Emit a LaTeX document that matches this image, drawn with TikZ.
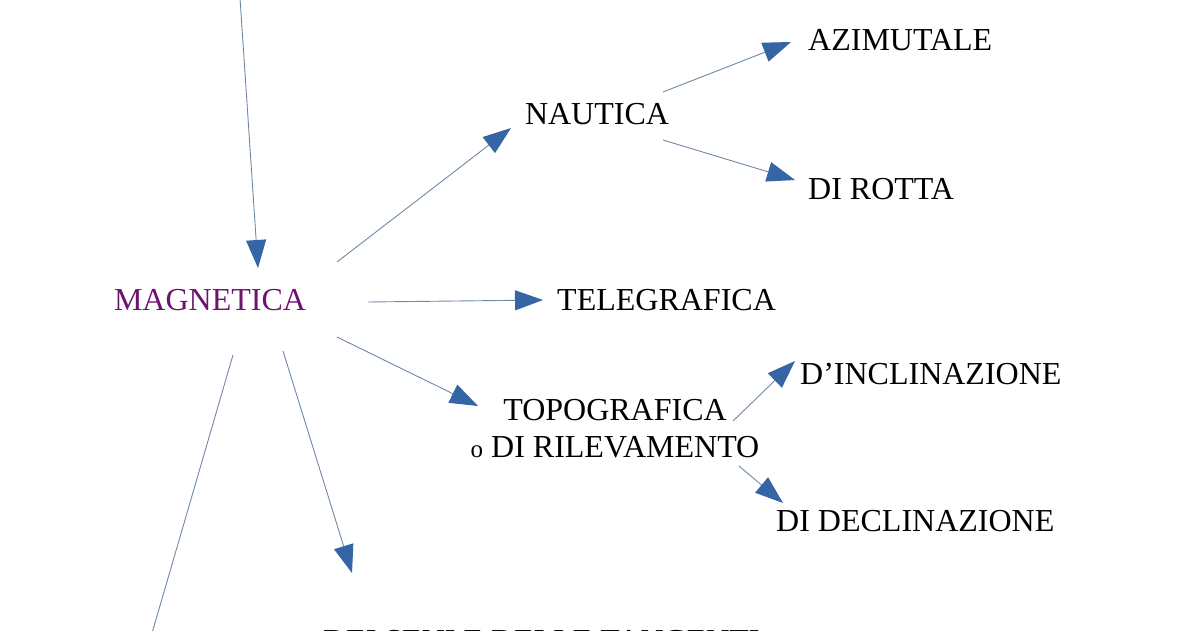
\documentclass[tikz,border=0pt]{standalone}
\usepackage{fontspec}
\setmainfont{Liberation Serif}
\usetikzlibrary{arrows.meta}
\definecolor{arr}{HTML}{3565A5}
\definecolor{ln}{HTML}{6F88A8}
\definecolor{mag}{HTML}{6E1470}
\begin{document}
\begin{tikzpicture}[x=1pt,y=-1pt,
  lbl/.style={font=\fontsize{32}{37}\selectfont, inner sep=0pt, text=black},
  con/.style={draw=ln, line width=0.9pt, -{Triangle[length=28pt,width=20pt,color=arr]}},
  free/.style={draw=ln, line width=0.9pt}]
\path[use as bounding box] (0,0) rectangle (1200,630);
\clip (0,0) rectangle (1200,630);
\node[lbl, text=mag] (mag) at (210,300) {MAGNETICA};
\node[lbl] (naut) at (597,114) {NAUTICA};
\node[lbl, anchor=west] (azi) at (808,40) {AZIMUTALE};
\node[lbl, anchor=west] (rot) at (808,189) {DI ROTTA};
\node[lbl, anchor=west] (tel) at (557,300) {TELEGRAFICA};
\node[lbl, align=center] (topo) at (615,429) {TOPOGRAFICA\\{\fontsize{25}{27}\selectfont o} DI RILEVAMENTO};
\node[lbl, anchor=west] (inc) at (800,374) {D’INCLINAZIONE};
\node[lbl, anchor=west] (dec) at (776,521) {DI DECLINAZIONE};
\node[lbl, anchor=west] (sen) at (323,641) {DEI SENI E DELLE TANGENTI};
\coordinate (t0) at (240,-2); \coordinate (t1) at (258,268);
\coordinate (a0) at (337,262); \coordinate (a1) at (511,128);
\coordinate (b0) at (368,302); \coordinate (b1) at (543,300);
\coordinate (c0) at (337,337); \coordinate (c1) at (478,406);
\coordinate (d0) at (283,351); \coordinate (d1) at (352,573);
\coordinate (e0) at (233,355); \coordinate (e1) at (150,640);
\coordinate (f0) at (663,92); \coordinate (f1) at (791,42);
\coordinate (g0) at (663,140); \coordinate (g1) at (795,180);
\coordinate (h0) at (733,421); \coordinate (h1) at (795,361);
\coordinate (i0) at (739,466); \coordinate (i1) at (783,503);
\draw[con] (t0) -- (t1);
\draw[con] (a0) -- (a1);
\draw[con] (b0) -- (b1);
\draw[con] (c0) -- (c1);
\draw[con] (d0) -- (d1);
\draw[free] (e0) -- (e1);
\draw[con] (f0) -- (f1);
\draw[con] (g0) -- (g1);
\draw[con] (h0) -- (h1);
\draw[con] (i0) -- (i1);
\end{tikzpicture}
\end{document}
